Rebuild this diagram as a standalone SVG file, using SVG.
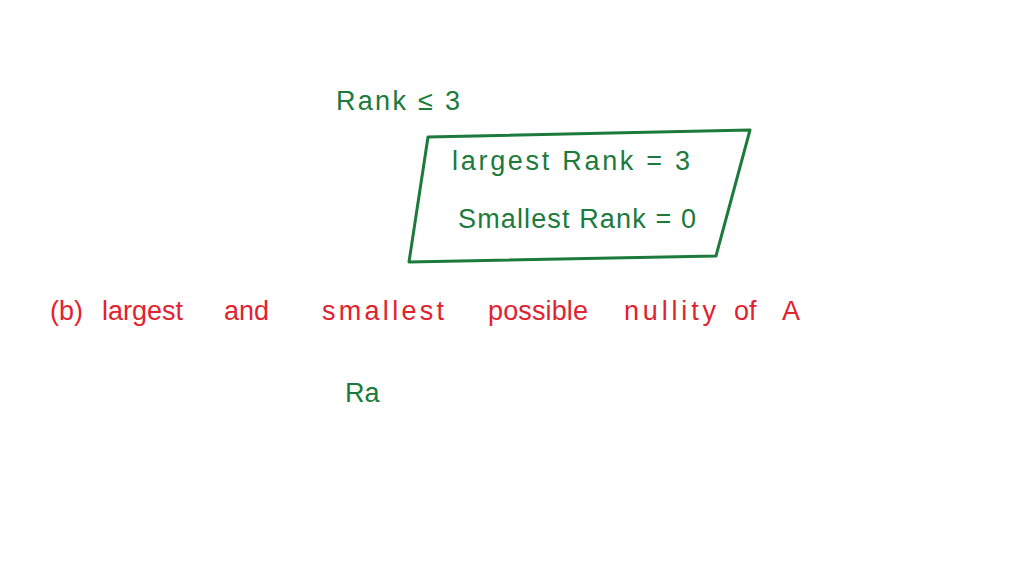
<svg xmlns="http://www.w3.org/2000/svg" width="1024" height="576" viewBox="0 0 1024 576">
<style>
.g{fill:#1b7a3c;font-family:"Liberation Sans",sans-serif;font-size:27px}
.r{fill:#e2222e;font-family:"Liberation Sans",sans-serif;font-size:27px}
</style>
<rect width="1024" height="576" fill="#fff"/>
<text class="g" x="336" y="110" textLength="124">Rank ≤ 3</text>
<polygon points="428,137 750,130 716,256 409,262" fill="none" stroke="#1b7a3c" stroke-width="3" stroke-linejoin="round"/>
<text class="g" x="452" y="170" textLength="238">largest  Rank = 3</text>
<text class="g" x="458" y="228" textLength="238">Smallest Rank = 0</text>
<text class="r" x="50" y="320">(b)</text>
<text class="r" x="102" y="320">largest</text>
<text class="r" x="224" y="320">and</text>
<text class="r" x="322" y="320" textLength="122">smallest</text>
<text class="r" x="488" y="320" textLength="100">possible</text>
<text class="r" x="624" y="320" textLength="92">nullity</text>
<text class="r" x="734" y="320">of</text>
<text class="r" x="782" y="320">A</text>
<text class="g" x="345" y="402">Ra</text>
</svg>
